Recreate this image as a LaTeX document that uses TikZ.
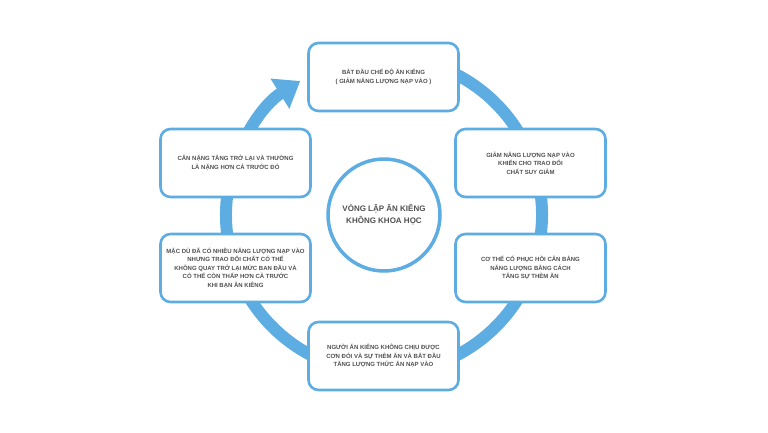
\documentclass[tikz,border=0pt]{standalone}
\usepackage{fontspec}
\setmainfont{Liberation Sans}
\usetikzlibrary{arrows.meta}
\definecolor{bl}{HTML}{5DADE2}
\definecolor{tx}{HTML}{505050}
\begin{document}
\begin{tikzpicture}[x=1pt,y=-1pt,
 box/.style={draw=bl,line width=2.6pt,fill=white,rounded corners=10pt,minimum width=150pt,minimum height=68pt,align=center,text=tx,font=\fontsize{6}{8.5}\selectfont\bfseries},
]
\useasboundingbox (0,0) rectangle (768,432);
\coordinate (c) at (384,215);
\draw[bl,line width=12pt,-{Triangle[width=34pt,length=24pt]}] (c) ++(-80:158) arc[start angle=-80,end angle=238,radius=158];
\node[box] (t) at (383.5,77) {BẮT ĐẦU CHẾ ĐỘ ĂN KIÊNG\\( GIẢM NĂNG LƯỢNG NẠP VÀO )};
\node[box] (rt) at (530.5,163) {GIẢM NĂNG LƯỢNG NẠP VÀO\\KHIẾN CHO TRAO ĐỔI\\CHẤT SUY GIẢM};
\node[box] (rb) at (530.5,268) {CƠ THỂ CỐ PHỤC HỒI CÂN BẰNG\\NĂNG LƯỢNG BẰNG CÁCH\\TĂNG SỰ THÈM ĂN};
\node[box] (b) at (383.5,356) {NGƯỜI ĂN KIÊNG KHÔNG CHỊU ĐƯỢC\\CƠN ĐÓI VÀ SỰ THÈM ĂN VÀ BẮT ĐẦU\\TĂNG LƯỢNG THỨC ĂN NẠP VÀO};
\node[box] (lb) at (235.5,268) {MẶC DÙ ĐÃ CÓ NHIỀU NĂNG LƯỢNG NẠP VÀO\\NHƯNG TRAO ĐỔI CHẤT CÓ THỂ\\KHÔNG QUAY TRỞ LẠI MỨC BAN ĐẦU VÀ\\CÓ THỂ CÒN THẤP HƠN CẢ TRƯỚC\\KHI BẠN ĂN KIÊNG};
\node[box] (lt) at (235.5,163) {CÂN NẶNG TĂNG TRỞ LẠI VÀ THƯỜNG\\LÀ NẶNG HƠN CẢ TRƯỚC ĐÓ};
\node[circle,draw=bl,line width=3.5pt,fill=white,minimum size=112pt,align=center,text=tx,font=\fontsize{8}{12}\selectfont\bfseries] (m) at (c) {VÒNG LẶP ĂN KIÊNG\\KHÔNG KHOA HỌC};
\end{tikzpicture}
\end{document}
